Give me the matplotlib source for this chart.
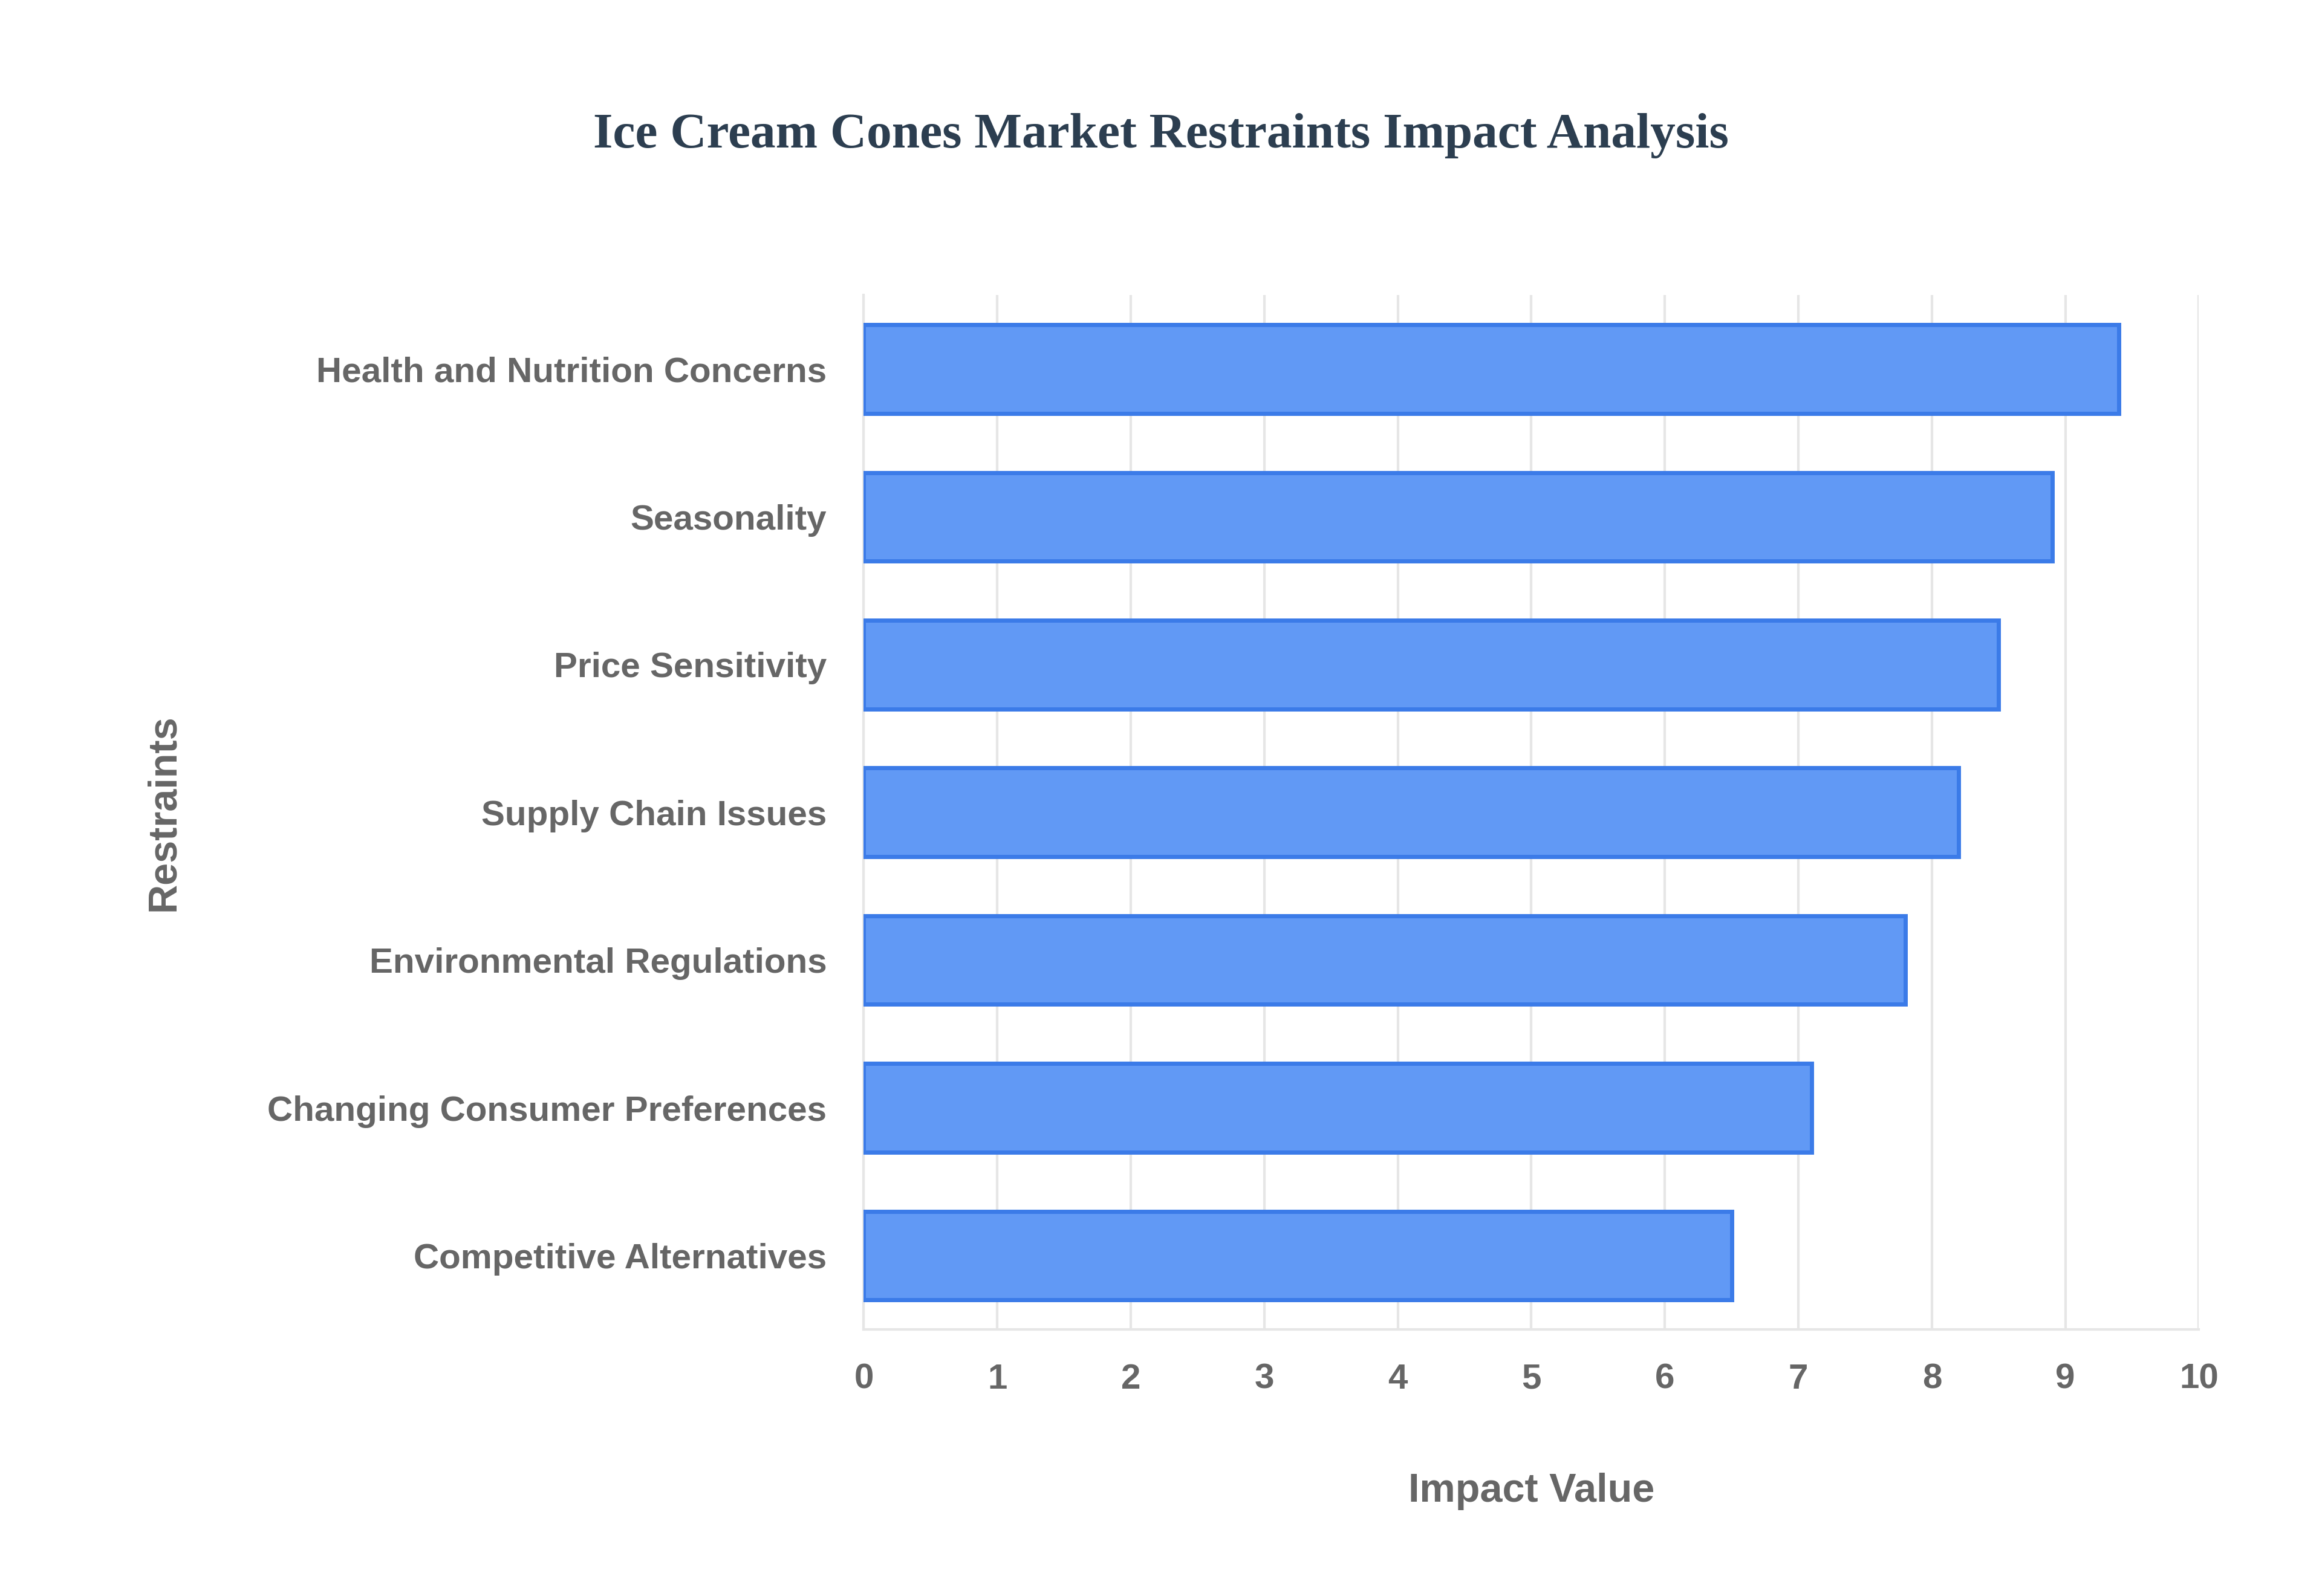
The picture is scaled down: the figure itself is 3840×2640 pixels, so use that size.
import matplotlib
matplotlib.use("Agg")
import matplotlib.pyplot as plt

# data, top to bottom as drawn
restraints = [
    "Health and Nutrition Concerns",
    "Seasonality",
    "Price Sensitivity",
    "Supply Chain Issues",
    "Environmental Regulations",
    "Changing Consumer Preferences",
    "Competitive Alternatives",
]
impact = [9.4, 8.9, 8.5, 8.2, 7.8, 7.1, 6.5]
x_ticks = list(range(0, 11))

fig = plt.figure(figsize=(19.2, 13.2), dpi=200)
ax = fig.add_axes([0.372, 0.167, 0.575, 0.648])

ypos = list(range(len(restraints)))[::-1]
ax.barh(ypos, impact, height=0.6, color="#6199f5", edgecolor="#3b7be8",
        linewidth=2.5, zorder=3)

ax.set_xlim(0, 10)
ax.set_ylim(-0.5, len(restraints) - 0.5)
ax.set_xticks(x_ticks)
ax.set_yticks(ypos)
ax.set_yticklabels(restraints)
ax.grid(axis="x", color="#e6e6e6", linewidth=1.5, zorder=0)
for s in ("top", "right"):
    ax.spines[s].set_visible(False)
for s in ("left", "bottom"):
    ax.spines[s].set_color("#e6e6e6")
    ax.spines[s].set_linewidth(1.5)
ax.tick_params(axis="y", length=0, pad=22)
ax.tick_params(axis="x", length=0, pad=20)
for lab in ax.get_xticklabels() + ax.get_yticklabels():
    lab.set_fontfamily("Liberation Sans")
    lab.set_fontweight("bold")
    lab.set_fontsize(21)
    lab.set_color("#666666")

ax.set_xlabel("Impact Value", fontsize=24, fontweight="bold", color="#666666",
              family="Liberation Sans", labelpad=46)
ax.set_ylabel("Restraints", fontsize=24, fontweight="bold", color="#666666",
              family="Liberation Sans")
ax.yaxis.set_label_coords(-0.51, 0.5)

fig.text(0.5, 0.915, "Ice Cream Cones Market Restraints Impact Analysis",
         ha="center", va="center", fontsize=30, fontweight="bold",
         color="#2c3e50", family="Liberation Serif")

fig.savefig("out.png", dpi=200)
